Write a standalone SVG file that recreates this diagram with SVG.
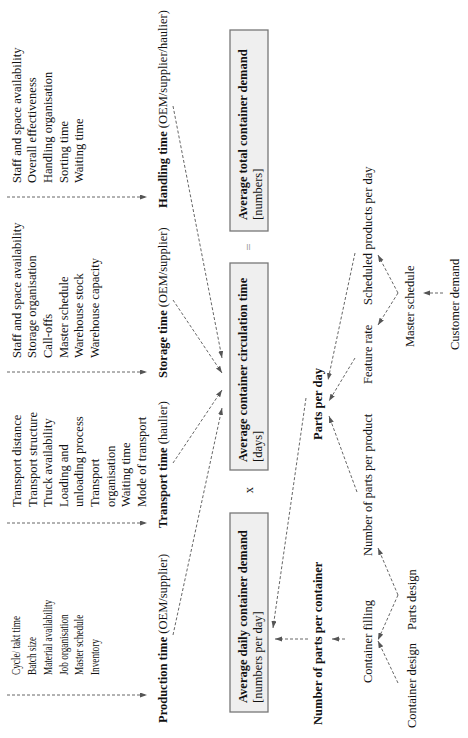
<svg xmlns="http://www.w3.org/2000/svg" width="468" height="738" viewBox="0 0 468 738">
<defs>
<marker id="ah" markerUnits="userSpaceOnUse" markerWidth="8" markerHeight="6" refX="7" refY="2.5" orient="auto"><path d="M0,0 L7,2.5 L0,5 z" fill="#555"/></marker>
<style>
text{font-family:"Liberation Serif","Times New Roman",serif;font-size:12.5px;fill:#111}
.b{font-weight:bold}
.box{fill:#efefef;stroke:#777;stroke-width:1.3}
.c{fill:none;stroke:#555;stroke-width:0.9;stroke-dasharray:3 2;marker-end:url(#ah)}
</style>
</defs>
<rect width="468" height="738" fill="#fff"/>
<g transform="translate(0,738) rotate(-90)">
<g id="production-factors" transform="translate(63,0) scale(0.74,1) translate(-63,0)"><text x="63" y="20.5">Cycle/ takt time</text><text x="63" y="36.2">Batch size</text><text x="63" y="51.9">Material availability</text><text x="63" y="67.6">Job organisation</text><text x="63" y="83.3">Master schedule</text><text x="63" y="99">Inventory</text></g>
<g id="transport-factors"><text x="231" y="21">Transport distance</text><text x="231" y="36.6">Transport structure</text><text x="231" y="52.2">Truck availability</text><text x="231" y="67.8">Loading and</text><text x="231" y="83.4">unloading process</text><text x="231" y="99">Transport</text><text x="231" y="114.6">organisation</text><text x="231" y="130.2">Waiting time</text><text x="231" y="145.8">Mode of transport</text></g>
<g id="storage-factors"><text x="380" y="20.5">Staff and space availability</text><text x="380" y="36.2">Storage organisation</text><text x="380" y="51.9">Call-offs</text><text x="380" y="67.6">Master schedule</text><text x="380" y="83.3">Warehouse stock</text><text x="380" y="99">Warehouse capacity</text></g>
<g id="handling-factors"><text x="555" y="20.5">Staff and space availability</text><text x="555" y="36.2">Overall effectiveness</text><text x="555" y="51.9">Handling organisation</text><text x="555" y="67.6">Sorting time</text><text x="555" y="83.3">Waiting time</text></g>
<g id="production-time"><text x="15" y="167"><tspan class="b">Production time </tspan>(OEM/supplier)</text></g>
<g id="transport-time"><text x="210" y="167"><tspan class="b">Transport time </tspan>(haulier)</text></g>
<g id="storage-time"><text x="360" y="167"><tspan class="b">Storage time </tspan>(OEM/supplier)</text></g>
<g id="handling-time"><text x="530" y="167"><tspan class="b">Handling time </tspan>(OEM/supplier/haulier)</text></g>
<g id="daily-demand"><rect class="box" x="26" y="230" width="199" height="38"/><text class="b" x="35" y="247">Average daily container demand</text><text x="35" y="262">[numbers per day]</text></g>
<g id="op-times"><text x="248" y="253" text-anchor="middle">x</text></g>
<g id="circulation-time"><rect class="box" x="268" y="230" width="207" height="38"/><text class="b" x="276" y="247">Average container circulation time</text><text x="276" y="262">[days]</text></g>
<g id="op-equals"><text x="491" y="253" text-anchor="middle" style="fill:#888">=</text></g>
<g id="total-demand"><rect class="box" x="507" y="230" width="201" height="38"/><text class="b" x="518" y="247">Average total container demand</text><text x="518" y="262">[numbers]</text></g>
<g id="parts-per-container"><text class="b" x="13" y="322">Number of parts per container</text></g>
<g id="parts-per-day"><text class="b" x="298" y="322">Parts per day</text></g>
<g id="container-filling"><text x="55" y="372">Container filling</text></g>
<g id="parts-per-product"><text x="182" y="372">Number of parts per product</text></g>
<g id="feature-rate"><text x="354" y="372">Feature rate</text></g>
<g id="scheduled-products"><text x="433" y="372">Scheduled products per day</text></g>
<g id="container-design"><text x="10" y="416">Container design</text></g>
<g id="parts-design"><text x="108" y="416">Parts design</text></g>
<g id="master-schedule"><text x="391" y="414">Master schedule</text></g>
<g id="customer-demand"><text x="388" y="459">Customer demand</text></g>
<g id="connectors">
<path class="c" d="M43,7 L43,147"/>
<path class="c" d="M215,7 L215,147"/>
<path class="c" d="M366,7 L366,147"/>
<path class="c" d="M541,7 L541,147"/>
<path class="c" d="M103,173 L330,222"/>
<path class="c" d="M275,173 L348,222"/>
<path class="c" d="M438,173 L365,222"/>
<path class="c" d="M632,173 L380,222"/>
<path class="c" d="M340,306 L110,273"/>
<path class="c" d="M99,308 L99,275"/>
<path class="c" d="M99,345 L99,332"/>
<path class="c" d="M55,398 L97,378"/>
<path class="c" d="M143,398 L98,378"/>
<path class="c" d="M143,398 L190,378"/>
<path class="c" d="M246,357 L322,329"/>
<path class="c" d="M380,355 L337,329"/>
<path class="c" d="M485,355 L358,328"/>
<path class="c" d="M445,398 L483,378"/>
<path class="c" d="M445,398 L413,378"/>
<path class="c" d="M445,443 L445,423"/>
</g>
</g>
</svg>
